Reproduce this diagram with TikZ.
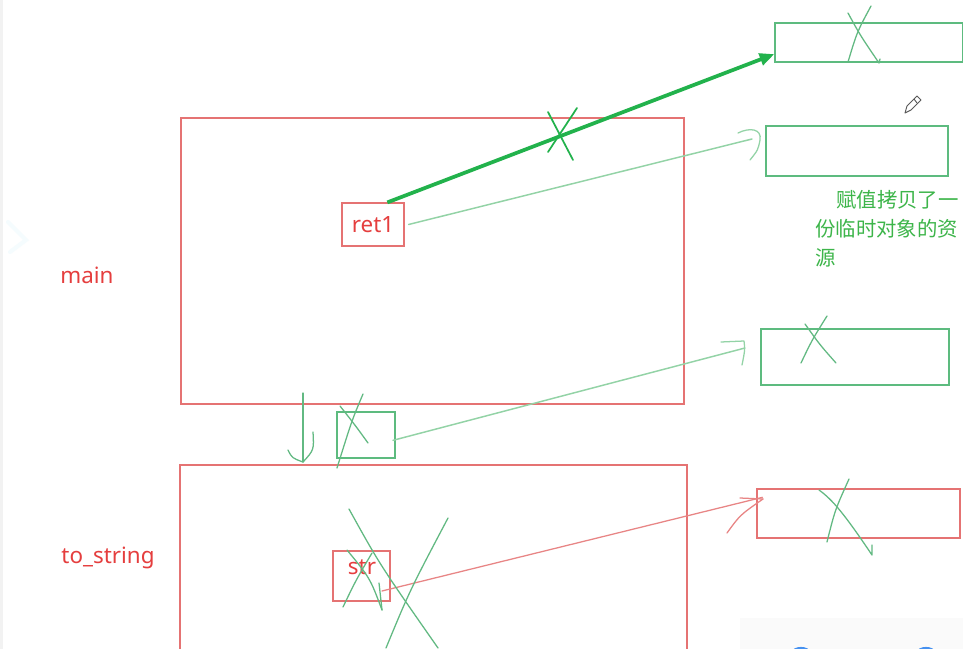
\documentclass[tikz,border=0pt]{standalone}
\usepackage{fontspec}
\setmainfont{Noto Sans}
\newfontfamily\cjk{Noto Sans CJK SC}
\usetikzlibrary{fit,arrows.meta}
\definecolor{rbox}{HTML}{E57373}
\definecolor{rtext}{HTML}{E53E3E}
\definecolor{gbox}{HTML}{5DBB7F}
\definecolor{gthick}{HTML}{22B24C}
\definecolor{gthin}{HTML}{93D3A6}
\definecolor{gscrib}{HTML}{62B982}
\definecolor{gtext}{HTML}{3DB54A}
\definecolor{rthin}{HTML}{E88585}
\begin{document}
\begin{tikzpicture}[x=0.75pt,y=-0.75pt,
  redbox/.style={draw=rbox,line width=0.9pt,inner sep=0pt},
  greenbox/.style={draw=gbox,line width=1pt,inner sep=0pt},
  lbl/.style={text=rtext,font=\fontsize{16.8}{19}\selectfont,inner sep=0pt},
  cntext/.style={text=gtext,font=\cjk\fontsize{15.3}{18}\selectfont,inner sep=0pt,anchor=west},
  scrib/.style={draw=gscrib,line width=0.95pt,line cap=round,line join=round},
  rscrib/.style={draw=rthin,line width=0.95pt,line cap=round,line join=round},
  thinline/.style={draw=gthin,line width=1.1pt,line cap=round},
  thickarrow/.style={draw=gthick,line width=2.8pt,-{Triangle[length=11pt,width=9pt]}}]
\useasboundingbox (0,0) rectangle (963,649);
\clip (0,0) rectangle (963,649);
\fill[white] (0,0) rectangle (963,649);
\fill[black!5] (0,0) rectangle (3,649);
% faint screenshot artefacts
\fill[black!2] (740,618) rectangle (963,649);
\draw[draw={rgb,255:red,70;green,145;blue,240},line width=1.6pt] (801,662) circle (14);
\draw[draw={rgb,255:red,70;green,145;blue,240},line width=1.6pt] (926,662) circle (14);
\draw[draw=cyan!4,line width=3pt,line cap=round] (8,222) -- (26,240) -- (10,252);

% main frames
\node[redbox,fit={(181,118)(684,404)}] (main) {};
\node[redbox,fit={(180,465)(687,700)}] (tostr) {};
\node[lbl] (mainlbl) at (87,275) {main};
\node[lbl] (tostrlbl) at (108,558) {to\_string};

% inner boxes
\node[redbox,fit={(342,203)(404,246)}] (ret1) {};
\node[lbl] (ret1lbl) at (373,225) {ret1};
\node[redbox,fit={(333,551)(390,601)}] (str) {};
\node[lbl] (strlbl) at (362,567) {str};
\node[greenbox,fit={(337,412)(395,458)}] (sb) {};

% right boxes
\node[greenbox,fit={(775,23)(963,62)}] (b1) {};
\node[greenbox,fit={(766,126)(948,176)}] (b2) {};
\node[greenbox,fit={(761,329)(949,385)}] (b3) {};
\node[redbox,fit={(757,489)(960,538)}] (b4) {};

% chinese note
\node[cntext] (n1) at (836,200) {赋值拷贝了一};
\node[cntext] (n2) at (815,229) {份临时对象的资};
\node[cntext] (n3) at (815,258) {源};

% free ends of hand drawn arrows
\coordinate (h2) at (752,139);
\coordinate (h3) at (745,348);
\coordinate (s0) at (382,591);

% connectors
\draw[thickarrow] (ret1.57) -- (b1.187);
\draw[thinline] ([xshift=3pt]ret1.east) -- (h2);
\draw[thinline] ([xshift=-2pt,yshift=-4pt]sb.east) -- (h3);
\draw[rscrib] (s0) -- ([xshift=4.5pt]b4.171);

% hand drawn hooks
\draw[scrib,draw=gthin] (738,133) .. controls (750,127) and (762,129) .. (760,140) .. controls (758,150) .. (750,160);
\draw[scrib,draw=gthin] (721,342) -- (744,341) .. controls (745,350) .. (742,365);
\draw[rscrib] (740,498) -- (763,499);
\draw[rscrib] (727,533) .. controls (740,515) .. (763,499);

% crosses
\draw[scrib] (848,13) .. controls (860,35) .. (879,63) -- (880,59);
\draw[scrib] (871,6) .. controls (857,32) .. (848,62);
\draw[draw=gthick,line width=1.3pt,line cap=round] (548,112) -- (573,160);
\draw[draw=gthick,line width=1.3pt,line cap=round] (577,108) -- (548,152);
\draw[scrib] (827,316) .. controls (812,340) .. (801,363);
\draw[scrib] (805,324) .. controls (820,345) .. (836,363);
\draw[scrib] (849,479) .. controls (835,510) .. (827,542);
\draw[scrib] (819,490) .. controls (833,500) and (845,515) .. (872,555) -- (872,545);
\draw[scrib] (363,394) .. controls (352,420) .. (337,468);
\draw[scrib] (340,406) .. controls (355,425) .. (368,443);
% down arrow
\draw[scrib] (303,393) -- (303,462);
\draw[scrib] (288,450) .. controls (292,458) .. (303,462);
\draw[scrib] (313,432) .. controls (314,450) .. (303,462);
% str crosses
\draw[scrib] (349,509) .. controls (380,565) .. (438,648);
\draw[scrib] (448,518) .. controls (410,590) .. (386,648);
\draw[scrib] (347,550) .. controls (370,578) .. (382,610);
\draw[scrib] (372,553) .. controls (356,580) .. (343,607);
\draw[scrib] (379,583) -- (382,610);

% pencil cursor
\draw[black!65,line width=0.7pt,line join=round] (905,113) -- (911,110) -- (921,100) -- (917,96) -- (907,106) -- cycle;
\draw[black!65,line width=0.7pt] (917,103) -- (914,99);
\end{tikzpicture}
\end{document}
